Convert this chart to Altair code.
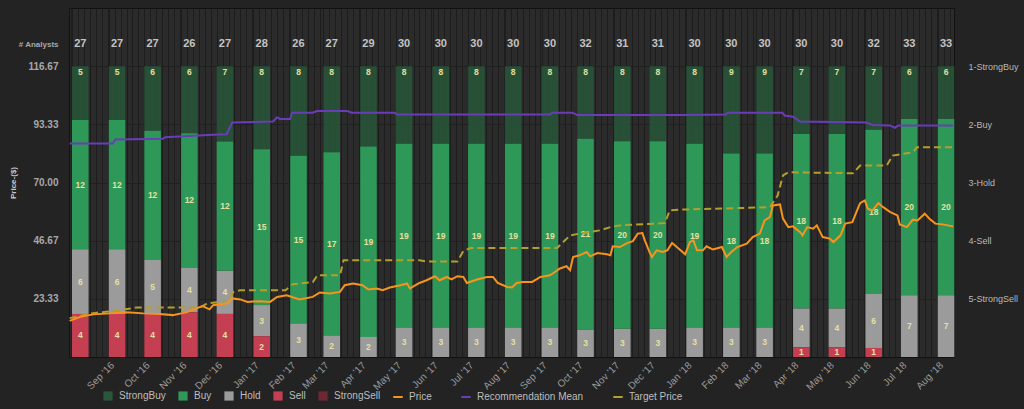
import json
import altair as alt
import pandas as pd

# ---------------- data ----------------
months = ["2016-08-01", "2016-09-01", "2016-10-01", "2016-11-01", "2016-12-01",
          "2017-01-01", "2017-02-01", "2017-03-01", "2017-04-01", "2017-05-01",
          "2017-06-01", "2017-07-01", "2017-08-01", "2017-09-01", "2017-10-01",
          "2017-11-01", "2017-12-01", "2018-01-01", "2018-02-01", "2018-03-01",
          "2018-04-01", "2018-05-01", "2018-06-01", "2018-07-01", "2018-08-01"]
analysts = [27, 27, 27, 26, 27, 28, 26, 27, 29, 30, 30, 30, 30, 30, 32, 31, 31,
            30, 30, 30, 30, 30, 32, 33, 33]
strong_buy = [5, 5, 6, 6, 7, 8, 8, 8, 8, 8, 8, 8, 8, 8, 8, 8, 8, 8, 9, 9, 7, 7, 7, 6, 6]
buy = [12, 12, 12, 12, 12, 15, 15, 17, 19, 19, 19, 19, 19, 19, 21, 20, 20, 19, 18, 18,
       18, 18, 18, 20, 20]
hold = [6, 6, 5, 4, 4, 3, 3, 2, 2, 3, 3, 3, 3, 3, 3, 3, 3, 3, 3, 3, 4, 4, 6, 7, 7]
sell = [4, 4, 4, 4, 4, 2, 0, 0, 0, 0, 0, 0, 0, 0, 0, 0, 0, 0, 0, 0, 1, 1, 1, 0, 0]
strong_sell = [0, 0, 0, 0, 0, 0, 0, 0, 0, 0, 0, 0, 0, 0, 0, 0, 0, 0, 0, 0, 0, 0, 0, 0, 0]

categories = ["StrongBuy", "Buy", "Hold", "Sell", "StrongSell"]
category_colors = ["#28573a", "#2e9858", "#9b9b9b", "#c43f52", "#6e2832"]
stack_rank = [4, 3, 2, 1, 0]

# days after 2016-08-01
price_day = [-2, 7, 18, 32, 46, 60, 74, 85, 97, 105,
             110, 116, 119, 131, 135, 142, 148, 158, 167, 173,
             181, 192, 203, 209, 217.5, 226, 230, 237, 245, 250,
             257, 262, 268, 277, 282.5, 285, 293, 299, 306, 310,
             316, 320, 325, 330, 333, 341.5, 350, 355, 359, 367,
             371, 375, 380, 388, 395, 403, 406, 411.5, 417, 420,
             422.5, 428, 434, 437, 443, 451, 454, 456, 462, 468,
             473, 477, 481, 483, 487, 489, 493, 498, 502, 506,
             510, 517, 521, 524, 527, 532, 535, 540.5, 548, 552,
             555, 561, 569, 574, 580, 584, 588.5, 591, 597, 599.5,
             604, 608, 614, 616, 620, 625, 628, 633, 639, 642,
             648, 652, 658, 662, 664.5, 668.5, 671, 675, 680, 684,
             690, 696, 698, 704, 709, 713, 719, 723, 728, 734,
             743]
price_val = [14.5, 16.1, 17.1, 17.5, 18.0, 17.5, 17.2, 16.8, 18.0, 19.5,
             20.4, 19.1, 20.8, 21.5, 23.5, 23.1, 22.1, 22.4, 22.1, 24.1,
             24.8, 23.1, 24.1, 25.9, 25.5, 26.1, 28.8, 29.5, 28.8, 27.1,
             27.5, 26.8, 27.9, 28.8, 29.5, 27.5, 29.7, 30.8, 32.4, 30.8,
             32.1, 31.1, 32.4, 32.1, 29.7, 31.1, 32.1, 32.1, 29.7, 28.1,
             27.9, 29.7, 30.1, 30.1, 32.1, 32.8, 33.7, 35.5, 36.4, 34.8,
             40.1, 40.8, 42.1, 40.4, 41.7, 41.2, 40.8, 44.4, 44.1, 45.7,
             46.5, 49.5, 49.7, 46.8, 42.1, 40.1, 42.8, 42.1, 42.8, 45.7,
             44.1, 41.2, 46.1, 46.8, 42.8, 42.8, 44.4, 43.1, 44.1, 40.1,
             41.7, 44.1, 45.5, 48.1, 49.5, 54.8, 56.1, 60.8, 61.2, 55.5,
             52.1, 52.4, 50.1, 48.8, 52.1, 51.5, 52.8, 48.1, 47.5, 46.1,
             48.8, 53.5, 54.1, 58.8, 61.7, 62.8, 59.5, 58.8, 61.7, 60.1,
             58.1, 56.8, 53.2, 52.1, 55.1, 54.8, 57.5, 55.5, 53.5, 53.2,
             52.4]

target_day = [-2, 18, 40.5, 55, 108, 114, 119, 131.5, 136, 142,
              180, 186, 203, 207, 226, 229, 293, 299, 325, 330,
              336, 409, 420, 428, 445, 456, 462, 500, 504, 513,
              588.5, 595, 599.5, 604, 658.5, 664.5, 687, 692, 709, 712.5,
              743]
target_val = [15.6, 17.6, 18.8, 19.9, 19.9, 21.5, 21.8, 22.4, 26.1, 26.8,
              26.8, 29.2, 30.0, 32.8, 32.8, 38.8, 38.8, 38.3, 38.3, 42.5,
              43.7, 43.7, 48.8, 49.5, 50.8, 52.4, 52.8, 53.7, 58.8, 59.1,
              60.1, 64.8, 72.8, 74.1, 73.7, 76.8, 76.8, 80.8, 82.1, 84.1,
              84.1]

rec_day = [-2, 34.5, 36.5, 76.5, 78.5, 119, 130.5, 135, 169.5, 173,
           175.5, 184, 185.5, 203, 206.5, 232, 236, 272, 274, 403,
           405, 422, 426, 513, 551, 553, 599, 601, 608, 614,
           670, 675, 690, 694, 696.5, 743]
rec_val = [2.33, 2.33, 2.26, 2.25, 2.22, 2.18, 2.17, 1.97, 1.95, 1.88,
           1.91, 1.91, 1.80, 1.80, 1.77, 1.77, 1.80, 1.80, 1.83, 1.83,
           1.80, 1.80, 1.84, 1.84, 1.83, 1.80, 1.80, 1.85, 1.87, 1.95,
           1.97, 2.01, 2.02, 2.06, 2.02, 2.02]

line_names = ["Price", "Recommendation Mean", "Target Price"]
line_colors = ["#f7941d", "#6a3db8", "#b3a02c"]

price_ticks = [23.333, 46.667, 70.0, 93.333, 116.667]
rec_ticks = [1, 2, 3, 4, 5]
rec_labels = ["1-StrongBuy", "2-Buy", "3-Hold", "4-Sell", "5-StrongSell"]
analysts_label = "# Analysts"
y_title = "Price-($)"
bar_full = 116.667
price_top = 140.0
analyst_row = 125.5

# ---------------- tables ----------------
base_day = pd.Timestamp("2016-08-01")
FMT = "%Y-%m-%dT%H:%M:%S"


def to_dates(days):
    return [(base_day + pd.Timedelta(days=d)).strftime(FMT) for d in days]


month_iso = [pd.Timestamp(m).strftime(FMT) for m in months]

rows = []
for i, m in enumerate(month_iso):
    for cat, counts, rank in zip(categories, [strong_buy, buy, hold, sell, strong_sell], stack_rank):
        rows.append({"month": m, "cat": cat, "count": counts[i], "rank": rank})
bars_df = pd.DataFrame(rows)
an_df = pd.DataFrame({"month": month_iso, "analysts": analysts})
price_df = pd.DataFrame({"date": to_dates(price_day), "value": price_val, "series": "Price"})
target_df = pd.DataFrame({"date": to_dates(target_day), "value": target_val, "series": "Target Price"})
rec_df = pd.DataFrame({"date": to_dates(rec_day), "value": rec_val, "series": "Recommendation Mean"})

# ---------------- scales / axes / legends ----------------
xscale = alt.Scale(domain=[alt.DateTime(year=2016, month=7, date=29, hours=12),
                           alt.DateTime(year=2018, month=8, date=14, hours=17)])
yscale = alt.Scale(domain=[0, price_top], nice=False, zero=False)
step = bar_full / 5
recscale = alt.Scale(domain=[6 - price_top / step, 6], reverse=True, nice=False, zero=False)
fill_scale = alt.Scale(domain=categories, range=category_colors)
stroke_scale = alt.Scale(domain=line_names, range=line_colors)

tick_dates = [pd.Timestamp(m) for m in months[1:]]
x_axis = alt.Axis(values=[alt.DateTime(year=t.year, month=t.month, date=1) for t in tick_dates],
                  format="%b '%y", labelAngle=-45, labelAlign="right", labelBaseline="top",
                  ticks=False, domain=False, grid=False, labelPadding=3,
                  labelFontSize=10, labelColor="#9a9a9a", title=None)

cond = f"datum.value > {bar_full + 1}"
y_axis = alt.Axis(values=price_ticks + [analyst_row],
                  labelExpr=f"{cond} ? {json.dumps(analysts_label)} : format(datum.value, '.2f')",
                  labelFontSize={"condition": {"test": cond, "value": 8}, "value": 10},
                  labelFontWeight="bold", labelColor="#a8a8a8", labelPadding=11,
                  ticks=False, domain=False, grid=True,
                  gridColor={"condition": {"test": cond, "value": "transparent"}, "value": "#202020"},
                  title=y_title, titleFontSize=8, titleFontWeight="bold", titleColor="#c8c8c8",
                  titlePadding=0)

rec_axis = alt.Axis(orient="right", values=rec_ticks,
                    labelExpr=json.dumps([""] + rec_labels) + "[datum.value]",
                    grid=False, ticks=False, domain=False, labelPadding=14,
                    labelFontSize=9, labelColor="#b8b8b8", title=None)

fill_legend = alt.Legend(orient="none", legendX=34, legendY=383, direction="horizontal",
                         title=None, symbolType="square", symbolSize=85, symbolStrokeWidth=0,
                         labelFontSize=10, labelColor="#bdbdbd", columnPadding=12, labelOffset=6)
stroke_legend = alt.Legend(orient="none", legendX=323, legendY=383, direction="horizontal",
                           title=None, symbolType="stroke", symbolSize=90, symbolStrokeWidth=2,
                           labelFontSize=10, labelColor="#bdbdbd", columnPadding=25, labelOffset=5)

# ---------------- layers ----------------
bar_base = (
    alt.Chart(bars_df)
    .transform_filter("datum.count > 0")
    .transform_joinaggregate(total="sum(count)", groupby=["month"])
    .transform_calculate(share=f"datum.count / datum.total * {bar_full}")
    .transform_stack(stack="share", groupby=["month"],
                     sort=[alt.SortField("rank", order="ascending")], as_=["y0", "y1"])
    .transform_calculate(start="toDate(datum.month)",
                         end="timeOffset('day', toDate(datum.month), 14)",
                         mid="timeOffset('day', toDate(datum.month), 7)",
                         ymid="(datum.y0 + datum.y1) / 2")
)

bars = bar_base.mark_bar().encode(
    x=alt.X("start:T", scale=xscale, axis=x_axis),
    x2="end:T",
    y=alt.Y("y0:Q", scale=yscale, axis=y_axis),
    y2="y1:Q",
    fill=alt.Fill("cat:N", scale=fill_scale, legend=fill_legend),
    opacity=alt.condition("datum.cat == 'StrongBuy'", alt.value(0.85), alt.value(1.0)),
)

label_color = "#e4e0a0"
seg_text = bar_base.transform_filter("datum.cat != 'StrongBuy'").mark_text(
    fontSize=8.5, fontWeight="bold", color=label_color, baseline="middle", align="center"
).encode(
    x=alt.X("mid:T", scale=xscale, axis=None),
    y=alt.Y("ymid:Q", scale=yscale, axis=None),
    text="count:Q",
)
top_text = bar_base.transform_filter("datum.cat == 'StrongBuy'").mark_text(
    fontSize=8.5, fontWeight="bold", color=label_color, baseline="top", align="center", dy=2
).encode(
    x=alt.X("mid:T", scale=xscale, axis=None),
    y=alt.Y("y1:Q", scale=yscale, axis=None),
    text="count:Q",
)

an_text = alt.Chart(an_df).transform_calculate(
    mid="timeOffset('day', toDate(datum.month), 7)"
).mark_text(fontSize=11, fontWeight="bold", color="#c4c4c4", baseline="middle").encode(
    x=alt.X("mid:T", scale=xscale, axis=None),
    y=alt.YDatum(analyst_row, type="quantitative", scale=yscale, axis=None),
    text="analysts:Q",
)

price = alt.Chart(price_df).mark_line(strokeWidth=2, clip=True).encode(
    x=alt.X("date:T", scale=xscale, axis=None),
    y=alt.Y("value:Q", scale=yscale, axis=None),
    stroke=alt.Stroke("series:N", scale=stroke_scale, legend=stroke_legend),
)
target = alt.Chart(target_df).mark_line(strokeWidth=2, strokeDash=[7, 4], clip=True).encode(
    x=alt.X("date:T", scale=xscale, axis=None),
    y=alt.Y("value:Q", scale=yscale, axis=None),
    stroke=alt.Stroke("series:N", scale=stroke_scale, legend=stroke_legend),
)
rec = alt.Chart(rec_df).mark_line(strokeWidth=2, clip=True).encode(
    x=alt.X("date:T", scale=xscale, axis=None),
    y=alt.Y("value:Q", scale=recscale, axis=rec_axis),
    stroke=alt.Stroke("series:N", scale=stroke_scale, legend=stroke_legend),
)

stripes = alt.Chart(price_df).mark_point(opacity=0).encode(
    x=alt.X("date:T", scale=xscale,
            axis=alt.Axis(orient="top", grid=True, gridColor="#1d1d1d", gridWidth=1,
                          labels=False, ticks=False, domain=False, title=None,
                          tickCount={"interval": "day", "step": 5})),
)

chart = (
    alt.layer(stripes, bars, seg_text, top_text, target, price, an_text, rec)
    .resolve_scale(x="independent", y="independent")
    .properties(width=885, height=349, autosize=alt.AutoSizeParams(type="none"),
                padding={"left": 69, "top": 8, "right": 70, "bottom": 52})
    .configure(font="Liberation Sans", background="#232323")
    .configure_view(fill="#2b2b2b", stroke="#111111", strokeWidth=1)
)

chart.save("out.html", embed_options={"renderer": "svg", "actions": False})
